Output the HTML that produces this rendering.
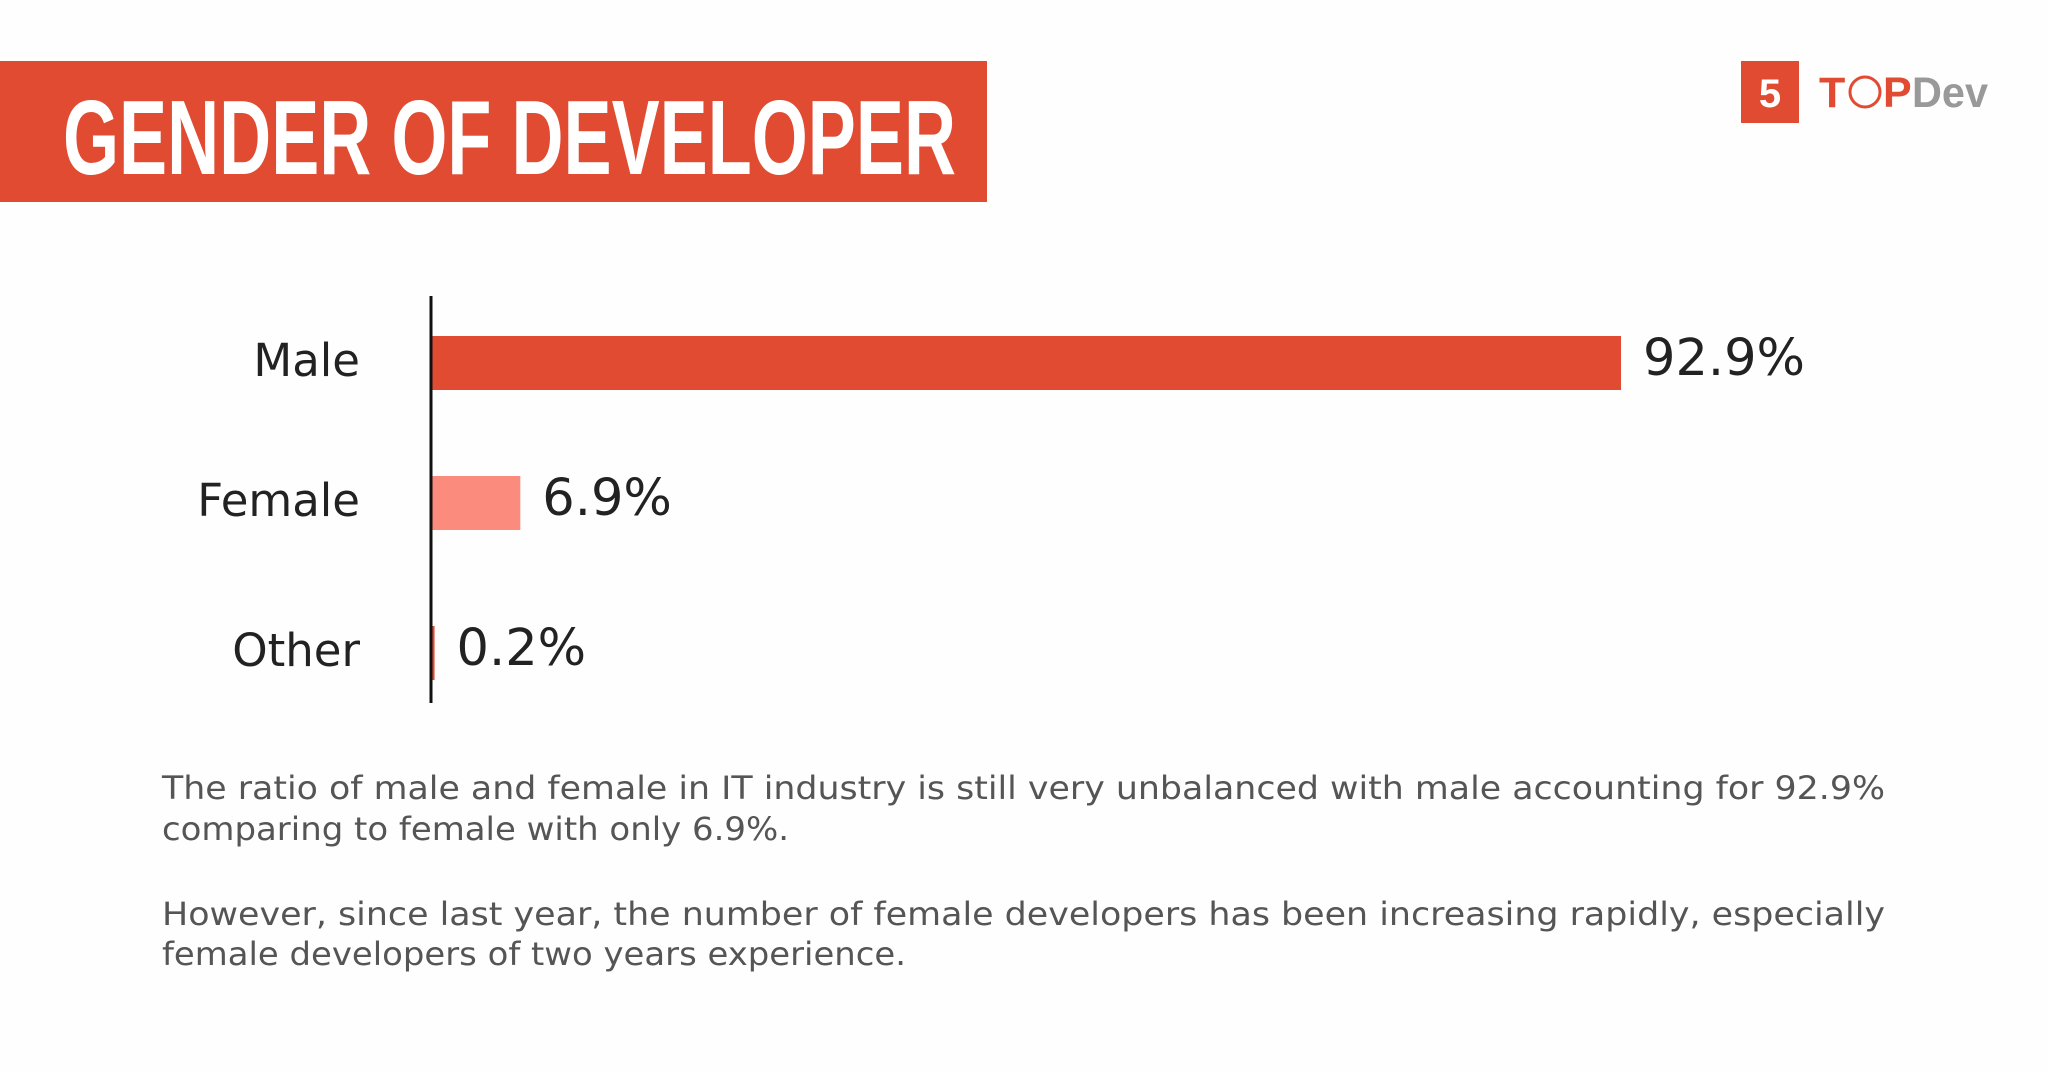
<!DOCTYPE html>
<html><head><meta charset="utf-8"><style>
html,body{margin:0;padding:0;background:#fefefe;}
svg{display:block;font-family:"DejaVu Sans","Liberation Sans",sans-serif;}
</style></head><body>
<svg id="chart" width="2048" height="1072" viewBox="0 0 2048 1072">
  <rect x="0" y="0" width="2048" height="1072" fill="#fefefe"/>
  <rect x="0" y="61" width="987" height="141" fill="#E04B32"/>
  <text x="63" y="174" font-family="Liberation Sans, sans-serif" font-size="106" font-weight="bold" fill="#fff" textLength="893" lengthAdjust="spacingAndGlyphs">GENDER OF DEVELOPER</text>
  <g>
    <rect x="1741" y="61" width="58" height="62" fill="#E04B32"/>
    <text x="1770" y="107" font-family="Liberation Sans, sans-serif" font-size="40" font-weight="bold" fill="#fff" text-anchor="middle">5</text>
    <text x="1819" y="107" font-family="Liberation Sans, sans-serif" font-size="43" font-weight="bold" fill="#E04B32">T</text>
    <circle cx="1865" cy="92" r="15" fill="none" stroke="#E04B32" stroke-width="3"/>
    <text x="1883" y="107" font-family="Liberation Sans, sans-serif" font-size="43" font-weight="bold" fill="#E04B32">P</text>
    <text x="1912" y="107" font-family="Liberation Sans, sans-serif" font-size="43" font-weight="bold" fill="#999" textLength="76" lengthAdjust="spacingAndGlyphs">Dev</text>
  </g>
  <g id="bars"></g>
  <line x1="431" y1="296" x2="431" y2="703" stroke="#111" stroke-width="3"/>
  <g fill="#555" font-size="32">
    <text x="162" y="799" textLength="1723" lengthAdjust="spacingAndGlyphs">The ratio of male and female in IT industry is still very unbalanced with male accounting for 92.9%</text>
    <text x="162" y="840" textLength="627" lengthAdjust="spacingAndGlyphs">comparing to female with only 6.9%.</text>
    <text x="162" y="925" textLength="1723" lengthAdjust="spacingAndGlyphs">However, since last year, the number of female developers has been increasing rapidly, especially</text>
    <text x="162" y="965" textLength="744" lengthAdjust="spacingAndGlyphs">female developers of two years experience.</text>
  </g>
</svg>
<script>
const categories = ["Male", "Female", "Other"];
const values = [92.9, 6.9, 0.2];
const valueLabels = ["92.9%", "6.9%", "0.2%"];
const colors = ["#E04B32", "#FA8B7D", "#E04B32"];

const x0 = 432, pxPerUnit = 1189 / 92.9;
function xScale(v){ return x0 + v * pxPerUnit; }
const bandTop = 316, bandStep = 140, barH = 54;
function yBand(i){ return bandTop + i * bandStep + (i === 2 ? 10 : 0); }

const g = document.getElementById('bars');
const NS = "http://www.w3.org/2000/svg";
categories.forEach((c, i) => {
  const y = yBand(i) + 20;
  const r = document.createElementNS(NS, 'rect');
  r.setAttribute('x', x0);
  r.setAttribute('y', y);
  r.setAttribute('width', Math.max(xScale(values[i]) - x0, 1));
  r.setAttribute('height', barH);
  r.setAttribute('fill', colors[i]);
  
  
  g.appendChild(r);

  const lab = document.createElementNS(NS, 'text');
  lab.setAttribute('x', 360);
  lab.setAttribute('y', y + 40);
  lab.setAttribute('text-anchor', 'end');
  lab.setAttribute('font-size', '45');
  lab.setAttribute('fill', '#222');
  lab.textContent = c;
  
  
  g.appendChild(lab);

  const vl = document.createElementNS(NS, 'text');
  vl.setAttribute('x', xScale(values[i]) + 22);
  vl.setAttribute('y', y + 39);
  vl.setAttribute('font-size', '51');
  vl.setAttribute('fill', '#222');
  vl.textContent = valueLabels[i];
  
  
  g.appendChild(vl);
});
</script>
</body></html>
